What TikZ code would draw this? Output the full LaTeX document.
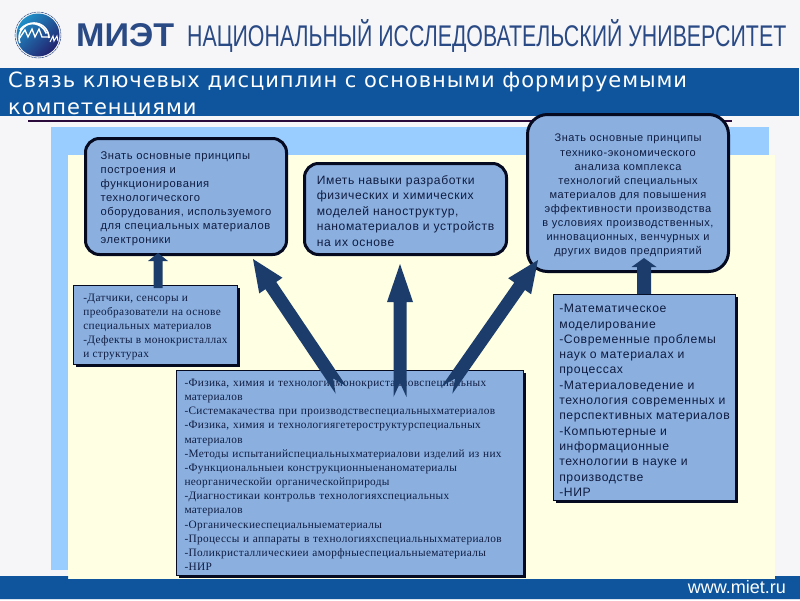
\documentclass[tikz,border=0pt]{standalone}
\usepackage{fontspec}
\usetikzlibrary{calc,shadows}
\setmainfont{Liberation Sans}
\newfontfamily\boxsans[LetterSpace=5]{Liberation Sans}
\newfontfamily\boxserif[LetterSpace=3]{Liberation Serif}
\newfontfamily\titlefont[LetterSpace=4.5]{DejaVu Sans}
\definecolor{pagebg}{HTML}{F6F6F8}
\definecolor{band}{HTML}{0F559E}
\definecolor{sky}{HTML}{99CCFF}
\definecolor{cream}{HTML}{FFFFE3}
\definecolor{boxfill}{HTML}{8BB0E0}
\definecolor{ink}{HTML}{101C40}
\definecolor{outline}{HTML}{050A20}
\definecolor{arrowfill}{HTML}{1C3D6B}
\definecolor{headblue}{HTML}{2A4A85}
\definecolor{rulecol}{HTML}{2A0A3A}
\definecolor{logolight}{HTML}{1F8FC8}
\definecolor{logodark}{HTML}{22226E}
\tikzset{
  roundbox/.style={draw=outline,line width=3pt,fill=boxfill,rounded corners=14pt,text=ink,inner sep=0pt,anchor=north west},
  flatbox/.style={draw=outline,line width=1pt,fill=boxfill,text=ink,inner sep=0pt,anchor=north west,general shadow={shadow xshift=2pt,shadow yshift=-2pt,fill=outline}},
}
\newcommand{\blockarrow}[6]{%
  \fill[arrowfill] ($(#1)!#3!90:(#2)$) -- ($(#1)!#6!(#2)$) -- ($(#1)!#3!-90:(#2)$)
    -- ($(#2)!#5!(#1)!#3!90:(#1)$) -- ($(#2)!#5!(#1)!#4!90:(#1)$) -- (#2)
    -- ($(#2)!#5!(#1)!#4!-90:(#1)$) -- ($(#2)!#5!(#1)!#3!-90:(#1)$) -- cycle;}
\newcommand{\topstrut}[1]{\rule{0pt}{#1pt}}
\begin{document}
\begin{tikzpicture}[x=1pt,y=-1pt]
\useasboundingbox (0,0) rectangle (800,600);
\fill[pagebg] (0,0) rectangle (800,600);
% header
\fill[band] (0,68) rectangle (799,116);
\draw[rulecol,line width=2pt] (28,121) -- (732,121);
% panels
\fill[sky] (51,127) rectangle (769,155);
\fill[sky] (51,127) rectangle (68,570);
\fill[cream] (68,155) rectangle (775,579);
% footer band
\fill[band] (0,576) -- (68,576) -- (68,579) -- (775,579) -- (775,576) -- (800,576) -- (800,599) -- (0,599) -- cycle;
% logo
\shade[left color=logolight,right color=logodark,shading angle=45] (38,35) circle (21.5);
\draw[headblue,line width=.5pt,dash pattern=on 3pt off .7pt] (38,35) circle (23);
\draw[white,line width=1.6pt] (49,38) arc (0:-200:15);
\draw[white,line width=1.6pt] (20,30) arc (215:340:15);
\draw[white,line width=1.3pt] (19,39) -- (25,30) -- (28,37) -- (32,29) -- (35,37) -- (39,29) -- (42,37) -- (50,37);
\draw[white,line width=1pt] (50,42) -- (53,36) -- (54,41) -- (57,36) -- (58,41);
\node[font=\bfseries\fontsize{32}{32}\selectfont,text=headblue,inner sep=0pt,anchor=base west] (miet) at (76,46) {\resizebox{98pt}{23pt}{МИЭТ}};
\node[text=headblue,inner sep=0pt,anchor=base west] (univer) at (187,46) {\resizebox{599pt}{27pt}{НАЦИОНАЛЬНЫЙ ИССЛЕДОВАТЕЛЬСКИЙ УНИВЕРСИТЕТ}};
\node[text=white,inner sep=0pt,anchor=base west,align=left,font=\titlefont\fontsize{21}{27}\selectfont] (title) at (8,114) {Связь ключевых дисциплин с основными формируемыми\\компетенциями};
\node[text=white,inner sep=0pt,anchor=base east,font=\fontsize{18}{20}\selectfont] (site) at (786,593) {www.miet.ru};
% boxes
\node[roundbox,minimum width=201pt,minimum height=116pt,align=left,font=\boxsans\fontsize{11.2}{14}\selectfont] (goalA) at (84,137) {\topstrut{13}Знать основные принципы\\построения и\\функционирования\\технологического\\оборудования, используемого\\для специальных материалов\\электроники};
\node[roundbox,minimum width=202pt,minimum height=91pt,align=left,font=\boxsans\fontsize{12.1}{15.5}\selectfont] (goalB) at (303,162) {\topstrut{12.5}Иметь навыки разработки\\физических и химических\\моделей наноструктур,\\наноматериалов и устройств\\на их основе};
\node[roundbox,rounded corners=20pt,minimum width=201pt,minimum height=157pt,align=center,font=\boxsans\fontsize{11}{14.1}\selectfont] (goalC) at (526,113) {\topstrut{13}Знать основные принципы\\технико-экономического\\анализа комплекса\\технологий специальных\\материалов для повышения\\эффективности производства\\в условиях производственных,\\инновационных, венчурных и\\других видов предприятий};
\node[flatbox,minimum width=164pt,minimum height=79pt,align=left,font=\boxserif\fontsize{11.3}{14}\selectfont] (srcA) at (73,285) {\topstrut{11}-Датчики, сенсоры и\\преобразователи на основе\\специальных материалов\\-Дефекты в монокристаллах\\и структурах};
\node[flatbox,minimum width=347pt,minimum height=205pt,text width=331pt,align=left,font=\boxserif\fontsize{11.3}{14.15}\selectfont] (srcB) at (176,370) {\topstrut{11}-Физика, химия и технологиямонокристалловспециальных\\материалов\\-Системакачества при производствеспециальныхматериалов\\-Физика, химия и технологиягетероструктурспециальных\\материалов\\-Методы испытанийспециальныхматериалови изделий из них\\-Функциональныеи конструкционныенаноматериалы\\неорганическойи органическойприроды\\-Диагностикаи контрольв технологияхспециальных\\материалов\\-Органическиеспециальныематериалы\\-Процессы и аппараты в технологияхспециальныхматериалов\\-Поликристаллическиеи аморфныеспециальныематериалы\\-НИР};
\node[flatbox,minimum width=182pt,minimum height=206pt,align=left,font=\boxsans\fontsize{12.2}{15.3}\selectfont] (srcC) at (553,294) {\topstrut{14}-Математическое\\моделирование\\-Современные проблемы\\наук о материалах и\\процессах\\-Материаловедение и\\технология современных и\\перспективных материалов\\-Компьютерные и\\информационные\\технологии в науке и\\производстве\\-НИР};
% arrows
\coordinate (t1) at (158,288); \coordinate (h1) at (158,253);
\coordinate (t2) at (341,390); \coordinate (h2) at (253,259);
\coordinate (t3) at (400,397); \coordinate (h3) at (400,264);
\coordinate (t4) at (447,390); \coordinate (h4) at (538,260);
\coordinate (t5) at (644,294); \coordinate (h5) at (644,258);
\blockarrow{t1}{h1}{4.5pt}{10pt}{8pt}{0pt}
\blockarrow{t5}{h5}{7pt}{12.5pt}{9pt}{0pt}
\blockarrow{t2}{h2}{6.5pt}{14pt}{32pt}{14pt}
\blockarrow{t3}{h3}{6.5pt}{13pt}{38pt}{14pt}
\blockarrow{t4}{h4}{6.5pt}{14pt}{32pt}{14pt}
\end{tikzpicture}
\end{document}
